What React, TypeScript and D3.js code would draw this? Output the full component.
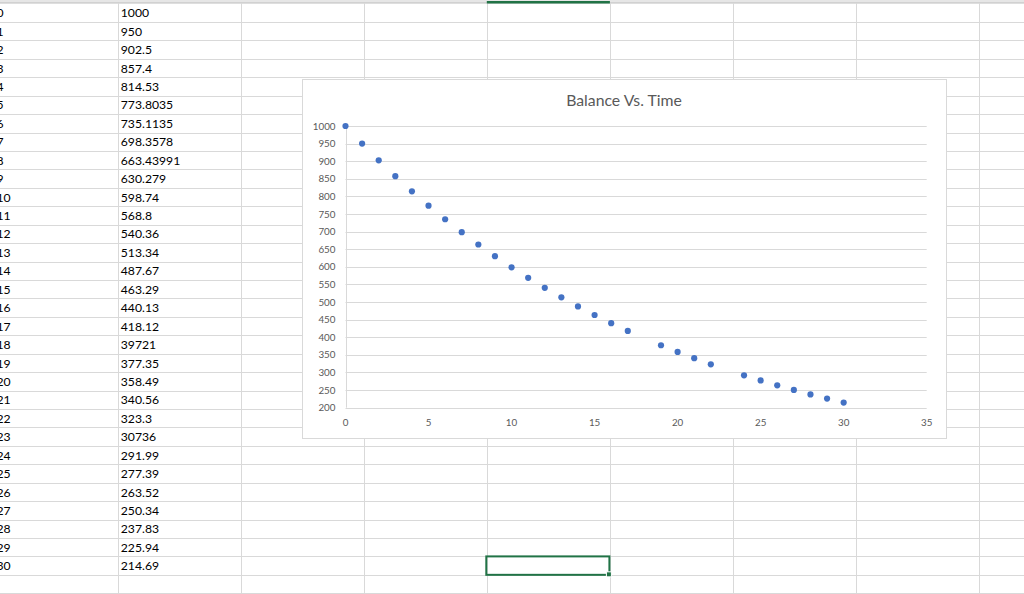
import React from "react";
import * as d3 from "d3";

const periods: string[] = Array.from({ length: 31 }, (_, i) => String(i));
const balanceText: string[] = [
  "1000", "950", "902.5", "857.4", "814.53", "773.8035", "735.1135", "698.3578",
  "663.43991", "630.279", "598.74", "568.8", "540.36", "513.34", "487.67", "463.29",
  "440.13", "418.12", "39721", "377.35", "358.49", "340.56", "323.3", "30736",
  "291.99", "277.39", "263.52", "250.34", "237.83", "225.94", "214.69",
];
const balances: number[] = balanceText.map((s) => +s);
const yTicks: number[] = [200, 250, 300, 350, 400, 450, 500, 550, 600, 650, 700, 750, 800, 850, 900, 950, 1000];
const xTicks: number[] = [0, 5, 10, 15, 20, 25, 30, 35];
const chartTitle = "Balance Vs. Time";

const W = 1024;
const H = 594;
const FONT = "Lato, 'Open Sans', sans-serif";

export default function App() {
  const rowY = d3.scaleLinear().domain([0, 1]).range([3.5, 21.93]);
  const colX = d3.scaleLinear().domain([0, 1]).range([117.5, 240.6]);
  const rows = d3.range(0, 33);
  const cols = d3.range(0, 8);

  const x = d3.scaleLinear().domain([0, 35]).range([345.5, 926.7]);
  const y = d3.scaleLinear().domain([200, 1000]).range([407.7, 126]);

  const pts = periods
    .map((p, i) => ({ t: +p, v: balances[i] }))
    .filter((d) => d.v >= 200 && d.v <= 1000);

  const grid = "#d9d9d9";
  const sel = "#217346";

  return (
    <div style={{ position: "fixed", left: 0, top: 0, width: W, height: H, background: "#fff" }}>
      <svg width={W} height={H} style={{ display: "block" }}>
        <rect x={0} y={0} width={W} height={H} fill="#ffffff" />
        {/* header strip */}
        <rect x={0} y={0} width={W} height={3} fill="#e6e6e6" />
        <line x1={0} x2={W} y1={3} y2={3} stroke="#bdbdbd" strokeWidth={1} />
        {/* row lines */}
        {rows.slice(1).map((r) => (
          <line key={"r" + r} x1={0} x2={W} y1={Math.round(rowY(r)) + 0.5} y2={Math.round(rowY(r)) + 0.5} stroke={grid} strokeWidth={1} />
        ))}
        {/* column lines */}
        {cols.map((c) => (
          <line key={"c" + c} x1={Math.round(colX(c)) + 0.5} x2={Math.round(colX(c)) + 0.5} y1={3} y2={H} stroke={grid} strokeWidth={1} />
        ))}
        {/* green column header indicator */}
        <rect x={colX(3)} y={1} width={colX(4) - colX(3)} height={2.5} fill={sel} />
        {/* cells */}
        {periods.map((p, i) => (
          <text key={"a" + i} x={-3.5} y={rowY(i + 1) - 4.6} fontFamily={FONT} fontSize={12.2} fill="#000">
            {p}
          </text>
        ))}
        {balanceText.map((b, i) => (
          <text key={"b" + i} x={colX(0) + 3.3} y={rowY(i + 1) - 4.6} fontFamily={FONT} fontSize={12.2} fill="#000">
            {b}
          </text>
        ))}
        {/* selected cell */}
        <rect x={colX(3) - 0.5} y={rowY(30)} width={colX(4) - colX(3)} height={rowY(31) - rowY(30)} fill="none" stroke={sel} strokeWidth={2} />
        <rect x={colX(4) - 3.5} y={rowY(31) - 3} width={5} height={5} fill={sel} stroke="#fff" strokeWidth={1} />

        {/* chart */}
        <rect x={302.5} y={79.5} width={644} height={359} fill="#fff" stroke={grid} strokeWidth={1} />
        <text x={624} y={105.8} textAnchor="middle" fontFamily={FONT} fontSize={15.8} fill="#595959">
          {chartTitle}
        </text>
        {yTicks.map((t) => (
          <line key={"g" + t} x1={x(0)} x2={x(35)} y1={Math.round(y(t)) + 0.5} y2={Math.round(y(t)) + 0.5} stroke={grid} strokeWidth={1} />
        ))}
        <line x1={Math.round(x(0)) + 0.5} x2={Math.round(x(0)) + 0.5} y1={y(1000)} y2={y(200)} stroke={grid} strokeWidth={1} />
        {yTicks.map((t) => (
          <text key={"yl" + t} x={335.5} y={y(t)} dy="0.36em" textAnchor="end" fontFamily={FONT} fontSize={9.8} fill="#595959">
            {t}
          </text>
        ))}
        {xTicks.map((t) => (
          <text key={"xl" + t} x={x(t)} y={426.3} textAnchor="middle" fontFamily={FONT} fontSize={9.8} fill="#595959">
            {t}
          </text>
        ))}
        {pts.map((d) => (
          <circle key={"p" + d.t} cx={x(d.t)} cy={y(d.v)} r={3.1} fill="#4472c4" />
        ))}
      </svg>
    </div>
  );
}
